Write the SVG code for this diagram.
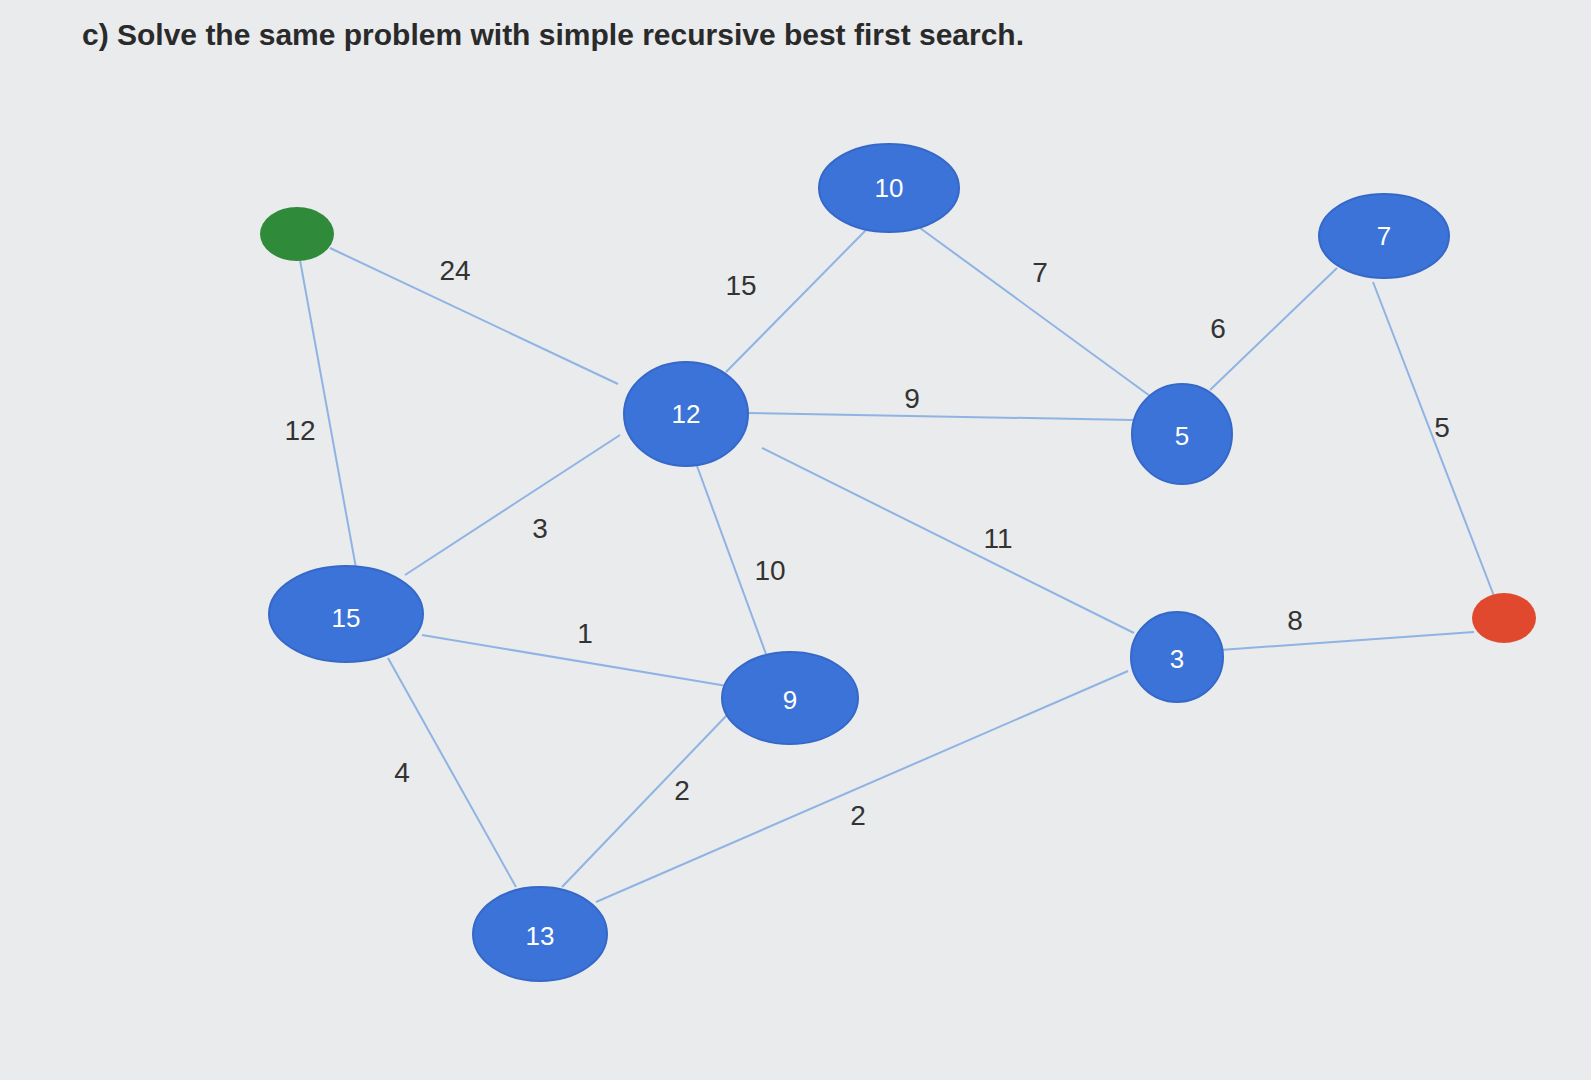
<svg xmlns="http://www.w3.org/2000/svg" width="1591" height="1080" viewBox="0 0 1591 1080">
<style>
.e{stroke:#8fb3e3;stroke-width:2;fill:none}
.n{fill:#3b73d8;stroke:#3568c8;stroke-width:2}
.nt{font-family:"Liberation Sans",Arial,sans-serif;font-size:26px;fill:#fff;text-anchor:middle;dominant-baseline:central}
.l{font-family:"Liberation Sans",Arial,sans-serif;font-size:28px;fill:#333;text-anchor:middle;dominant-baseline:central}
</style>
<rect width="1591" height="1080" fill="#e9ebed"/>
<text x="82" y="45" font-family="Liberation Sans,Arial,sans-serif" font-size="30" font-weight="bold" fill="#2a2a2a">c) Solve the same problem with simple recursive best first search.</text>
<g id="edges">
<line class="e" x1="330" y1="248" x2="618" y2="384"/>
<line class="e" x1="300" y1="260" x2="356" y2="568"/>
<line class="e" x1="866" y1="230" x2="726" y2="372"/>
<line class="e" x1="920" y1="228" x2="1150" y2="396"/>
<line class="e" x1="1337" y1="268" x2="1210" y2="390"/>
<line class="e" x1="1373" y1="282" x2="1494" y2="596"/>
<line class="e" x1="748" y1="413" x2="1133" y2="420"/>
<line class="e" x1="762" y1="448" x2="1134" y2="633"/>
<line class="e" x1="697" y1="466" x2="766" y2="654"/>
<line class="e" x1="620" y1="435" x2="405" y2="575"/>
<line class="e" x1="422" y1="635" x2="727" y2="686"/>
<line class="e" x1="388" y1="658" x2="516" y2="887"/>
<line class="e" x1="728" y1="714" x2="562" y2="887"/>
<line class="e" x1="1128" y1="671" x2="596" y2="902"/>
<line class="e" x1="1220" y1="650" x2="1474" y2="632"/>
<text class="l" x="455" y="270">24</text>
<text class="l" x="300" y="430">12</text>
<text class="l" x="741" y="285">15</text>
<text class="l" x="1040" y="272">7</text>
<text class="l" x="1218" y="328">6</text>
<text class="l" x="1442" y="427">5</text>
<text class="l" x="912" y="398">9</text>
<text class="l" x="998" y="538">11</text>
<text class="l" x="770" y="570">10</text>
<text class="l" x="540" y="528">3</text>
<text class="l" x="585" y="633">1</text>
<text class="l" x="402" y="772">4</text>
<text class="l" x="682" y="790">2</text>
<text class="l" x="858" y="815">2</text>
<text class="l" x="1295" y="620">8</text>
</g>
<g id="start"><ellipse cx="297" cy="234" rx="37" ry="27" fill="#2f8a3a"/></g>
<g id="goal"><ellipse cx="1504" cy="618" rx="32" ry="25" fill="#e0492e"/></g>
<g id="n10"><ellipse class="n" cx="889" cy="188" rx="70" ry="44"/><text class="nt" x="889" y="188">10</text></g>
<g id="n7"><ellipse class="n" cx="1384" cy="236" rx="65" ry="42"/><text class="nt" x="1384" y="236" font-size="18">7</text></g>
<g id="n12"><ellipse class="n" cx="686" cy="414" rx="62" ry="52"/><text class="nt" x="686" y="414">12</text></g>
<g id="n5"><ellipse class="n" cx="1182" cy="434" rx="50" ry="50"/><text class="nt" x="1182" y="436">5</text></g>
<g id="n15"><ellipse class="n" cx="346" cy="614" rx="77" ry="48"/><text class="nt" x="346" y="618">15</text></g>
<g id="n9"><ellipse class="n" cx="790" cy="698" rx="68" ry="46"/><text class="nt" x="790" y="700">9</text></g>
<g id="n3"><ellipse class="n" cx="1177" cy="657" rx="46" ry="45"/><text class="nt" x="1177" y="659">3</text></g>
<g id="n13"><ellipse class="n" cx="540" cy="934" rx="67" ry="47"/><text class="nt" x="540" y="936">13</text></g>
</svg>
